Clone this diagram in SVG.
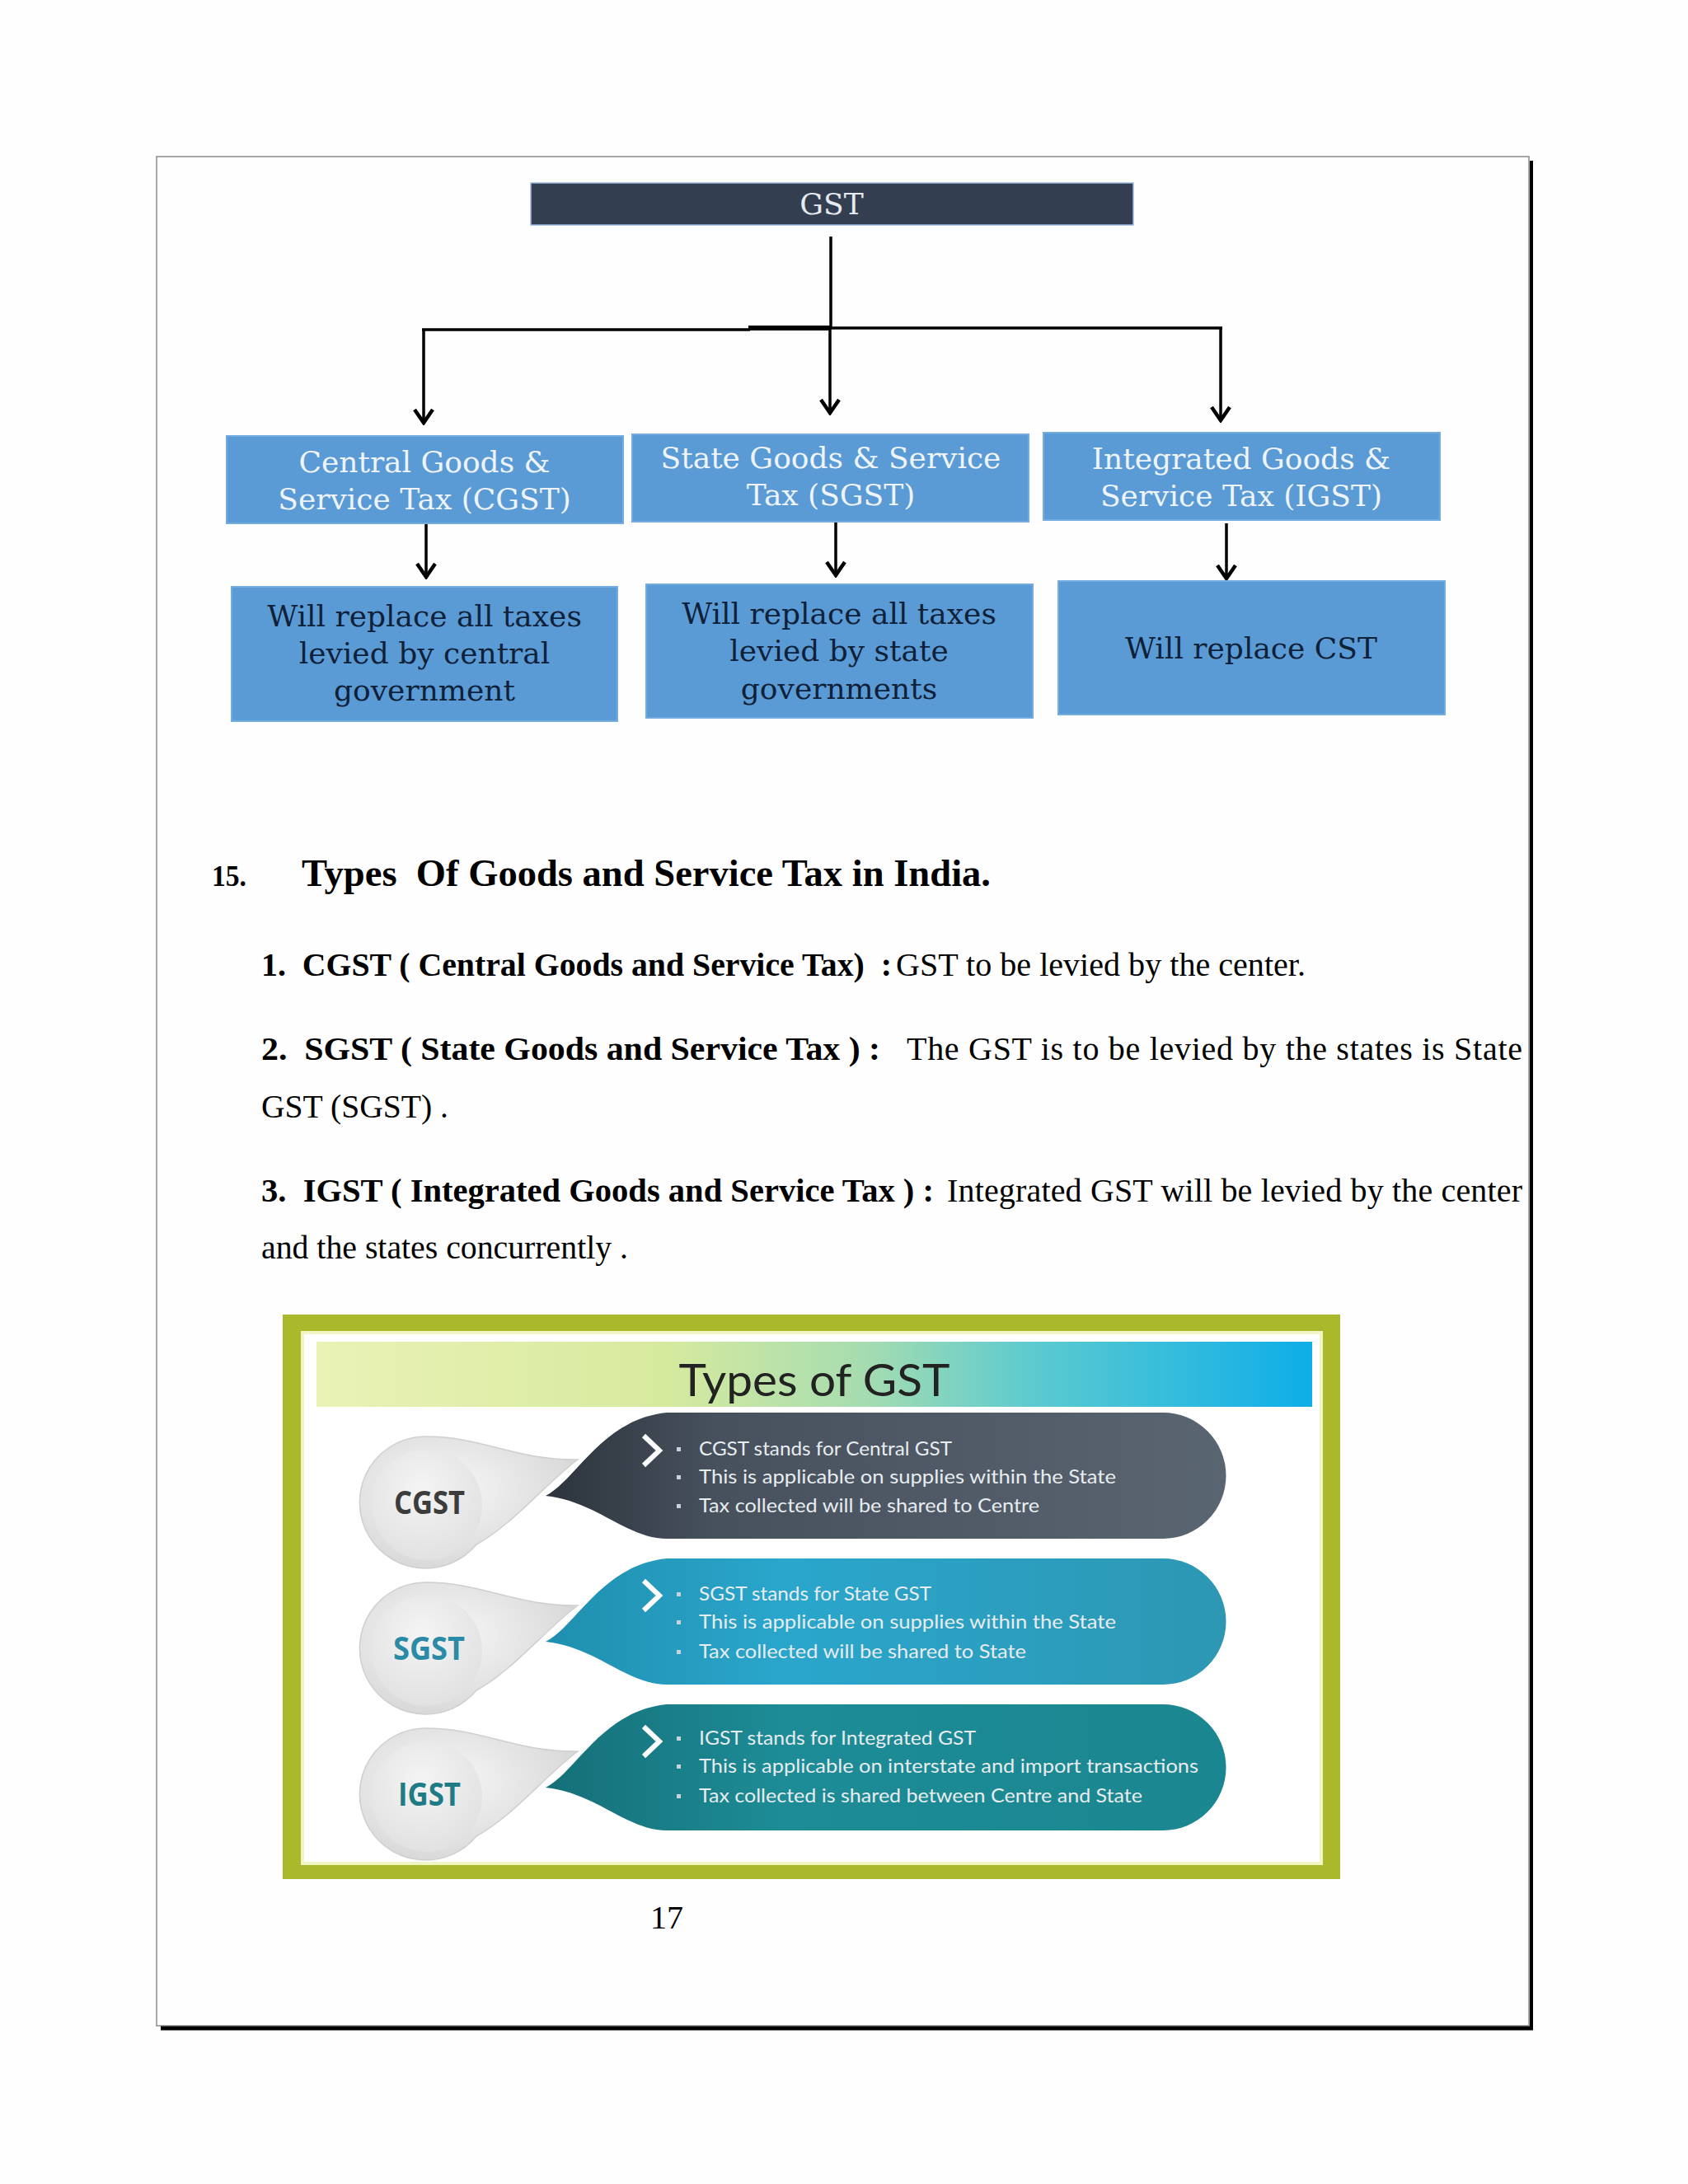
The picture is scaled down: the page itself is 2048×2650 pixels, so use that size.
<svg xmlns="http://www.w3.org/2000/svg" width="2048" height="2650" viewBox="0 0 2048 2650">
<defs>
<style>
.ser{font-family:"DejaVu Serif","Liberation Serif",serif;font-size:36px;text-anchor:middle}
.w{fill:#eef4fa}
.dk{fill:#0f2139}
.box{fill:#5b9bd5;stroke:#74ace0;stroke-width:2}
.conn{stroke:#000;stroke-width:3.5;fill:none}
.tr{font-family:"Liberation Serif","Times New Roman",serif;fill:#000}
.b{font-weight:bold}
.bl{font-family:Lato,"Open Sans",sans-serif;font-size:23px;fill:#e8ecef}
.lab{font-family:"Open Sans",Lato,sans-serif;font-size:40px;font-weight:bold}
.chev{fill:none;stroke:#fff;stroke-width:6}
.dot{fill:#c9d2d8}
</style>
<marker id="arr" viewBox="0 0 22 28" refX="19" refY="14" markerWidth="22" markerHeight="28" orient="auto" markerUnits="userSpaceOnUse">
<path d="M3,3 L19,14 L3,25" fill="none" stroke="#000" stroke-width="4.5" stroke-linejoin="miter"/>
</marker>
<linearGradient id="ban" x1="0" y1="0" x2="1" y2="0">
<stop offset="0" stop-color="#eaf2b6"/>
<stop offset="0.35" stop-color="#d6ea9e"/>
<stop offset="0.55" stop-color="#a6dcb0"/>
<stop offset="0.72" stop-color="#5ccad0"/>
<stop offset="1" stop-color="#0eaee8"/>
</linearGradient>
<linearGradient id="gC" x1="0" y1="0" x2="1" y2="0">
<stop offset="0" stop-color="#2c333c"/>
<stop offset="0.25" stop-color="#47515d"/>
<stop offset="1" stop-color="#5a6572"/>
</linearGradient>
<linearGradient id="gS" x1="0" y1="0" x2="1" y2="0">
<stop offset="0" stop-color="#1f8fae"/>
<stop offset="0.35" stop-color="#2aa6cc"/>
<stop offset="1" stop-color="#2d97b3"/>
</linearGradient>
<linearGradient id="gI" x1="0" y1="0" x2="1" y2="0">
<stop offset="0" stop-color="#156f78"/>
<stop offset="0.35" stop-color="#1d8c96"/>
<stop offset="1" stop-color="#1a8690"/>
</linearGradient>
<radialGradient id="drop" cx="0.4" cy="0.4" r="0.7">
<stop offset="0" stop-color="#f7f7f7"/>
<stop offset="1" stop-color="#d4d4d4"/>
</radialGradient>
<radialGradient id="inner" cx="0.45" cy="0.35" r="0.7">
<stop offset="0" stop-color="#f4f4f4"/>
<stop offset="1" stop-color="#e0e0e0"/>
</radialGradient>
</defs>

<rect x="0" y="0" width="2048" height="2650" fill="#fefefe"/>

<!-- page border -->
<g id="page">
<rect x="190" y="190" width="1665" height="2268" fill="none" stroke="#8a8a8a" stroke-width="1.5"/>
<line x1="1858" y1="195" x2="1858" y2="2463" stroke="#000" stroke-width="4"/>
<line x1="195" y1="2461" x2="1860" y2="2461" stroke="#000" stroke-width="5"/>
</g>

<!-- connectors -->
<g id="connectors">
<line class="conn" x1="1008" y1="287" x2="1008" y2="398"/>
<line class="conn" x1="512" y1="400" x2="910" y2="400"/>
<line class="conn" x1="908" y1="398" x2="1483" y2="398"/>
<line x1="908" y1="398" x2="1008" y2="398" stroke="#000" stroke-width="6"/>
<line class="conn" x1="514" y1="400" x2="514" y2="513" marker-end="url(#arr)"/>
<line class="conn" x1="1007" y1="399" x2="1007" y2="501" marker-end="url(#arr)"/>
<line class="conn" x1="1481" y1="398" x2="1481" y2="510" marker-end="url(#arr)"/>
<line class="conn" x1="517" y1="636" x2="517" y2="700" marker-end="url(#arr)"/>
<line class="conn" x1="1014" y1="633" x2="1014" y2="698" marker-end="url(#arr)"/>
<line class="conn" x1="1488" y1="635" x2="1488" y2="702" marker-end="url(#arr)"/>
</g>

<g id="gst">
<rect x="644" y="222" width="731" height="51" fill="#333f50" stroke="#9ab8dc" stroke-width="1.5"/>
<text class="ser" x="1009" y="260" fill="#e6e9ee">GST</text>
</g>

<g id="cgst">
<rect class="box" x="275" y="529" width="481" height="106"/>
<text class="ser w" x="515" y="573">Central Goods &amp;</text>
<text class="ser w" x="515" y="618">Service Tax (CGST)</text>
</g>
<g id="sgst">
<rect class="box" x="767" y="527" width="481" height="106"/>
<text class="ser w" x="1008" y="568">State Goods &amp; Service</text>
<text class="ser w" x="1008" y="613">Tax (SGST)</text>
</g>
<g id="igst">
<rect class="box" x="1266" y="525" width="481" height="106"/>
<text class="ser w" x="1506" y="569">Integrated Goods &amp;</text>
<text class="ser w" x="1506" y="614">Service Tax (IGST)</text>
</g>

<g id="cgst-desc">
<rect class="box" x="281" y="712" width="468" height="163"/>
<text class="ser dk" x="515" y="760">Will replace all taxes</text>
<text class="ser dk" x="515" y="805">levied by central</text>
<text class="ser dk" x="515" y="850">government</text>
</g>
<g id="sgst-desc">
<rect class="box" x="784" y="709" width="469" height="162"/>
<text class="ser dk" x="1018" y="757">Will replace all taxes</text>
<text class="ser dk" x="1018" y="802">levied by state</text>
<text class="ser dk" x="1018" y="848">governments</text>
</g>
<g id="igst-desc">
<rect class="box" x="1284" y="705" width="469" height="162"/>
<text class="ser dk" x="1518" y="799">Will replace CST</text>
</g>

<!-- section text -->
<g id="section">
<text class="tr b" x="257" y="1075" font-size="35" textLength="42" lengthAdjust="spacingAndGlyphs">15.</text>
<text class="tr b" x="366" y="1075" font-size="46" textLength="836" lengthAdjust="spacingAndGlyphs" xml:space="preserve">Types  Of Goods and Service Tax in India.</text>

<text class="tr b" x="317" y="1184" font-size="40" textLength="765" lengthAdjust="spacingAndGlyphs" xml:space="preserve">1.  CGST ( Central Goods and Service Tax)  :</text>
<text class="tr" x="1087" y="1184" font-size="40" textLength="497" lengthAdjust="spacingAndGlyphs">GST to be levied by the center.</text>

<text class="tr b" x="317" y="1286" font-size="40" textLength="751" lengthAdjust="spacingAndGlyphs" xml:space="preserve">2.  SGST ( State Goods and Service Tax ) :</text>
<text class="tr" x="1100" y="1286" font-size="40" textLength="747" lengthAdjust="spacing">The GST is to be levied by the states is State</text>
<text class="tr" x="317" y="1356" font-size="40" textLength="227" lengthAdjust="spacingAndGlyphs">GST (SGST) .</text>

<text class="tr b" x="317" y="1458" font-size="40" textLength="816" lengthAdjust="spacingAndGlyphs" xml:space="preserve">3.  IGST ( Integrated Goods and Service Tax ) :</text>
<text class="tr" x="1149" y="1458" font-size="40" textLength="698" lengthAdjust="spacing">Integrated GST will be levied by the center</text>
<text class="tr" x="317" y="1527" font-size="40" textLength="445" lengthAdjust="spacingAndGlyphs">and the states concurrently .</text>

<text class="tr" x="809" y="2340" font-size="40" text-anchor="middle">17</text>
</g>

<!-- Types of GST picture -->
<g id="types-picture">
<rect x="343" y="1595" width="1283" height="685" fill="#a9b92b"/>
<rect x="367" y="1617" width="1236" height="644" fill="#ffffff" stroke="#f1f4c4" stroke-width="4"/>
<rect x="384" y="1628" width="1208" height="79" fill="url(#ban)"/>
<text x="988" y="1694" font-family="Lato,'Open Sans',sans-serif" font-size="54" fill="#222" text-anchor="middle" textLength="329" lengthAdjust="spacingAndGlyphs">Types of GST</text>
</g>

<g id="cgst-bubble">
<path d="M809,1714 H1411 A76.5,76.5 0 0 1 1411,1867 H809 C760,1867 725,1822 662,1815 C700,1795 730,1722 809,1714 Z" fill="url(#gC)"/>
<path d="M517,1743 C585,1743 625,1772 701,1771 C662,1800 622,1850 578,1874 A80,80 0 1 1 517,1743 Z" fill="url(#drop)" stroke="#cfcfcf" stroke-width="1.5"/>
<circle cx="518" cy="1826" r="67" fill="url(#inner)"/>
<text class="lab" x="478" y="1837" fill="#3c3c3c" textLength="86" lengthAdjust="spacingAndGlyphs">CGST</text>
<polyline class="chev" points="781,1742 800,1760 781,1778"/>
<rect class="dot" x="821" y="1756" width="5" height="5"/>
<rect class="dot" x="821" y="1790" width="5" height="5"/>
<rect class="dot" x="821" y="1825" width="5" height="5"/>
<text class="bl" x="848" y="1766" textLength="307" lengthAdjust="spacingAndGlyphs">CGST stands for Central GST</text>
<text class="bl" x="848" y="1800" textLength="506" lengthAdjust="spacingAndGlyphs">This is applicable on supplies within the State</text>
<text class="bl" x="848" y="1835" textLength="413" lengthAdjust="spacingAndGlyphs">Tax collected will be shared to Centre</text>
</g>

<g id="sgst-bubble">
<path d="M809,1891 H1411 A76.5,76.5 0 0 1 1411,2044 H809 C760,2044 725,1999 662,1992 C700,1972 730,1899 809,1891 Z" fill="url(#gS)"/>
<path d="M517,1920 C585,1920 625,1949 701,1948 C662,1977 622,2027 578,2051 A80,80 0 1 1 517,1920 Z" fill="url(#drop)" stroke="#cfcfcf" stroke-width="1.5"/>
<circle cx="518" cy="2003" r="67" fill="url(#inner)"/>
<text class="lab" x="477" y="2014" fill="#2a8ba6" textLength="87" lengthAdjust="spacingAndGlyphs">SGST</text>
<polyline class="chev" points="781,1918 800,1936 781,1954"/>
<rect class="dot" x="821" y="1932" width="5" height="5"/>
<rect class="dot" x="821" y="1966" width="5" height="5"/>
<rect class="dot" x="821" y="2002" width="5" height="5"/>
<text class="bl" x="848" y="1942" textLength="282" lengthAdjust="spacingAndGlyphs">SGST stands for State GST</text>
<text class="bl" x="848" y="1976" textLength="506" lengthAdjust="spacingAndGlyphs">This is applicable on supplies within the State</text>
<text class="bl" x="848" y="2012" textLength="397" lengthAdjust="spacingAndGlyphs">Tax collected will be shared to State</text>
</g>

<g id="igst-bubble">
<path d="M809,2068 H1411 A76.5,76.5 0 0 1 1411,2221 H809 C760,2221 725,2176 662,2169 C700,2149 730,2076 809,2068 Z" fill="url(#gI)"/>
<path d="M517,2097 C585,2097 625,2126 701,2125 C662,2154 622,2204 578,2228 A80,80 0 1 1 517,2097 Z" fill="url(#drop)" stroke="#cfcfcf" stroke-width="1.5"/>
<circle cx="518" cy="2180" r="67" fill="url(#inner)"/>
<text class="lab" x="483" y="2191" fill="#1f7b86" textLength="76" lengthAdjust="spacingAndGlyphs">IGST</text>
<polyline class="chev" points="781,2095 800,2113 781,2131"/>
<rect class="dot" x="821" y="2107" width="5" height="5"/>
<rect class="dot" x="821" y="2141" width="5" height="5"/>
<rect class="dot" x="821" y="2177" width="5" height="5"/>
<text class="bl" x="848" y="2117" textLength="336" lengthAdjust="spacingAndGlyphs">IGST stands for Integrated GST</text>
<text class="bl" x="848" y="2151" textLength="606" lengthAdjust="spacingAndGlyphs">This is applicable on interstate and import transactions</text>
<text class="bl" x="848" y="2187" textLength="538" lengthAdjust="spacingAndGlyphs">Tax collected is shared between Centre and State</text>
</g>
</svg>
